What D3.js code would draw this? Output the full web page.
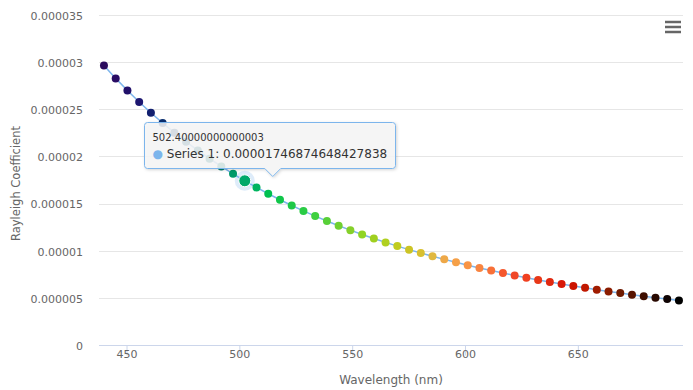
<!DOCTYPE html>
<html>
<head>
<meta charset="utf-8">
<script src="https://cdn.jsdelivr.net/npm/d3@7/dist/d3.min.js"></script>
<style>
body { margin: 0; background: #fff; }
#container { width: 693px; height: 390px; }
text { font-family: "DejaVu Sans", Verdana, sans-serif; }
</style>
</head>
<body>
<div id="container"></div>
<script>
////////// DATA

var wavelengths = [440, 445.2, 450.4, 455.6, 460.8, 466, 471.2, 476.4, 481.6, 486.8,
	492, 497.2, 502.4, 507.6, 512.8, 518, 523.2, 528.4, 533.6, 538.8,
	544, 549.2, 554.4, 559.6, 564.8, 570, 575.2, 580.4, 585.6, 590.8,
	596, 601.2, 606.4, 611.6, 616.8, 622, 627.2, 632.4, 637.6, 642.8,
	648, 653.2, 658.4, 663.6, 668.8, 674, 679.2, 684.4, 689.6, 694.8];

var coefficients = [2.9693e-5, 2.8330e-5, 2.7044e-5, 2.5830e-5, 2.4684e-5, 2.3600e-5, 2.2576e-5, 2.1606e-5, 2.0688e-5, 1.9818e-5,
	1.8993e-5, 1.8211e-5, 1.7469e-5, 1.6764e-5, 1.6094e-5, 1.5458e-5, 1.4852e-5, 1.4276e-5, 1.3728e-5, 1.3205e-5,
	1.2708e-5, 1.2233e-5, 1.1781e-5, 1.1349e-5, 1.0937e-5, 1.0543e-5, 1.0167e-5, 9.807e-6, 9.464e-6, 9.135e-6,
	8.820e-6, 8.519e-6, 8.230e-6, 7.954e-6, 7.689e-6, 7.435e-6, 7.192e-6, 6.958e-6, 6.734e-6, 6.519e-6,
	6.312e-6, 6.113e-6, 5.922e-6, 5.739e-6, 5.563e-6, 5.393e-6, 5.230e-6, 5.072e-6, 4.921e-6, 4.776e-6];

var pointColors = ["#2b0b5e", "#290c64", "#21106a", "#1c1670", "#122070", "#0a2e6e", "#043c6e", "#004c6e", "#005c6e", "#006c6e",
	"#007e6c", "#009a6a", "#00a86a", "#00b45f", "#00c050", "#10c64a", "#1ec848", "#2acc45", "#40d040", "#58d038",
	"#70d030", "#85d02a", "#90d425", "#a0d020", "#b0d020", "#c0cc20", "#ccc425", "#d8c030", "#e0b840", "#eea848",
	"#f5a048", "#f89445", "#f88440", "#f87038", "#f5582e", "#f04828", "#f04020", "#e83818", "#e02810", "#d81808",
	"#cc1400", "#c01800", "#a01c00", "#8a1c00", "#6e1a00", "#581400", "#3e0e00", "#280800", "#100404", "#000000"];

var xTicks = [450, 500, 550, 600, 650];
var yTicks = [0, 0.000005, 0.00001, 0.000015, 0.00002, 0.000025, 0.00003, 0.000035];
var yTickLabels = ["0", "0.000005", "0.00001", "0.000015", "0.00002", "0.000025", "0.00003", "0.000035"];

var seriesName = "Series 1";
var hoverIndex = 12; // point under the mouse
var tooltipHeader = "502.40000000000003";
var tooltipValue = "0.00001746874648427838";

////////// LAYOUT

var gWidth = 693;
var gHeight = 390;
var plotLeft = 99;
var plotRight = 683;
var plotTop = 15.5;
var plotBottom = 345.5;
var seriesColor = "#7cb5ec";

function crisp(v) { return Math.round(v - 0.5) + 0.5; }

function draw()
{
	var svg = d3.select("#container").append("svg")
		.attr("width", gWidth)
		.attr("height", gHeight);

	var x = d3.scaleLinear().domain([437.8, 696.6]).range([plotLeft, plotRight]);
	var y = d3.scaleLinear().domain([0, 0.000035]).range([plotBottom, plotTop]);

	var data = wavelengths.map(function(w, i) { return {w: w, v: coefficients[i], c: pointColors[i]}; });

	// grid lines
	svg.append("g").selectAll("line").data(yTicks.slice(1)).enter().append("line")
		.attr("x1", plotLeft)
		.attr("x2", plotRight)
		.attr("y1", function(d) { return crisp(y(d)); })
		.attr("y2", function(d) { return crisp(y(d)); })
		.style("stroke", "#e6e6e6")
		.style("stroke-width", "1px");

	// Y axis labels
	var yAxis = d3.axisLeft(y)
		.tickValues(yTicks)
		.tickSize(0)
		.tickPadding(0)
		.tickFormat(function(d, i) { return yTickLabels[i]; });
	var gy = svg.append("g").attr("transform", "translate(" + (plotLeft - 16) + ",0)").call(yAxis);
	gy.select(".domain").remove();
	gy.selectAll("text")
		.attr("dy", "0.35em")
		.style("font-size", "11px")
		.style("fill", "#666666");

	// X axis
	var xAxis = d3.axisBottom(x)
		.tickValues(xTicks)
		.tickSize(10)
		.tickPadding(-5)
		.tickSizeOuter(0);
	var gx = svg.append("g").attr("transform", "translate(0," + plotBottom + ")").call(xAxis);
	gx.select(".domain").attr("d", "M" + plotLeft + ",0H" + plotRight).style("stroke", "#ccd6eb");
	gx.selectAll(".tick line").style("stroke", "#ccd6eb");
	gx.selectAll(".tick text")
		.style("font-size", "11px")
		.style("fill", "#666666");

	// axis titles
	svg.append("text")
		.attr("x", (plotLeft + plotRight) / 2)
		.attr("y", 384)
		.attr("text-anchor", "middle")
		.style("font-size", "12px")
		.style("fill", "#666666")
		.text("Wavelength (nm)");

	svg.append("text")
		.attr("transform", "translate(20," + ((plotTop + plotBottom) / 2 + 3) + ") rotate(-90)")
		.attr("text-anchor", "middle")
		.style("font-size", "11.5px")
		.style("fill", "#666666")
		.text("Rayleigh Coefficient");

	// series line
	var line = d3.line()
		.x(function(d) { return x(d.w); })
		.y(function(d) { return y(d.v); });
	svg.append("path")
		.datum(data)
		.attr("d", line)
		.style("fill", "none")
		.style("stroke", seriesColor)
		.style("stroke-width", "1.5px");

	// hover halo
	var hp = data[hoverIndex];
	svg.append("circle")
		.attr("cx", x(hp.w))
		.attr("cy", y(hp.v))
		.attr("r", 10)
		.style("fill", seriesColor)
		.style("fill-opacity", 0.25);

	// markers
	svg.selectAll(".marker").data(data).enter().append("circle")
		.attr("class", "marker")
		.attr("cx", function(d) { return x(d.w); })
		.attr("cy", function(d) { return y(d.v); })
		.attr("r", function(d, i) { return i == hoverIndex ? 6 : 4; })
		.style("fill", function(d) { return d.c; })
		.style("stroke", "#ffffff")
		.style("stroke-width", function(d, i) { return i == hoverIndex ? 1 : 0; });

	// context menu button
	svg.append("g").selectAll("line").data([22, 27, 32]).enter().append("line")
		.attr("x1", 665)
		.attr("x2", 681)
		.attr("y1", function(d) { return d; })
		.attr("y2", function(d) { return d; })
		.style("stroke", "#666666")
		.style("stroke-width", "2.5px");

	drawTooltip(svg, x(hp.w), y(hp.v));
}

function drawTooltip(svg, px, py)
{
	var defs = svg.append("defs");
	var f = defs.append("filter").attr("id", "shadow").attr("x", "-10%").attr("y", "-10%").attr("width", "130%").attr("height", "150%");
	f.append("feDropShadow").attr("dx", 1).attr("dy", 1).attr("stdDeviation", 1.5)
		.attr("flood-color", "#000").attr("flood-opacity", 0.18);

	var left = 144.5, top = 122.5, w = 251, h = 46, r = 3;
	var tipX = px + 28, tipY = top + h + 8;
	var bottom = top + h;
	var p = d3.path();
	p.moveTo(left + r, top);
	p.lineTo(left + w - r, top);
	p.arcTo(left + w, top, left + w, top + r, r);
	p.lineTo(left + w, bottom - r);
	p.arcTo(left + w, bottom, left + w - r, bottom, r);
	p.lineTo(tipX + 8, bottom);
	p.lineTo(tipX, tipY);
	p.lineTo(tipX - 8, bottom);
	p.lineTo(left + r, bottom);
	p.arcTo(left, bottom, left, bottom - r, r);
	p.lineTo(left, top + r);
	p.arcTo(left, top, left + r, top, r);
	p.closePath();

	var g = svg.append("g");
	g.append("path")
		.attr("d", p.toString())
		.style("fill", "rgba(247,247,247,0.85)")
		.style("stroke", seriesColor)
		.style("stroke-width", "1px")
		.attr("filter", "url(#shadow)");

	g.append("text")
		.attr("x", left + 8)
		.attr("y", top + 18)
		.style("font-size", "10px")
		.style("fill", "#333333")
		.text(tooltipHeader);

	var body = g.append("text")
		.attr("x", left + 8)
		.attr("y", top + 35)
		.style("font-size", "12px")
		.style("fill", "#333333");
	body.append("tspan").style("fill", seriesColor).text("\u25CF");
	body.append("tspan").text(" " + seriesName + ": " + tooltipValue);
}

draw();
</script>
</body>
</html>
